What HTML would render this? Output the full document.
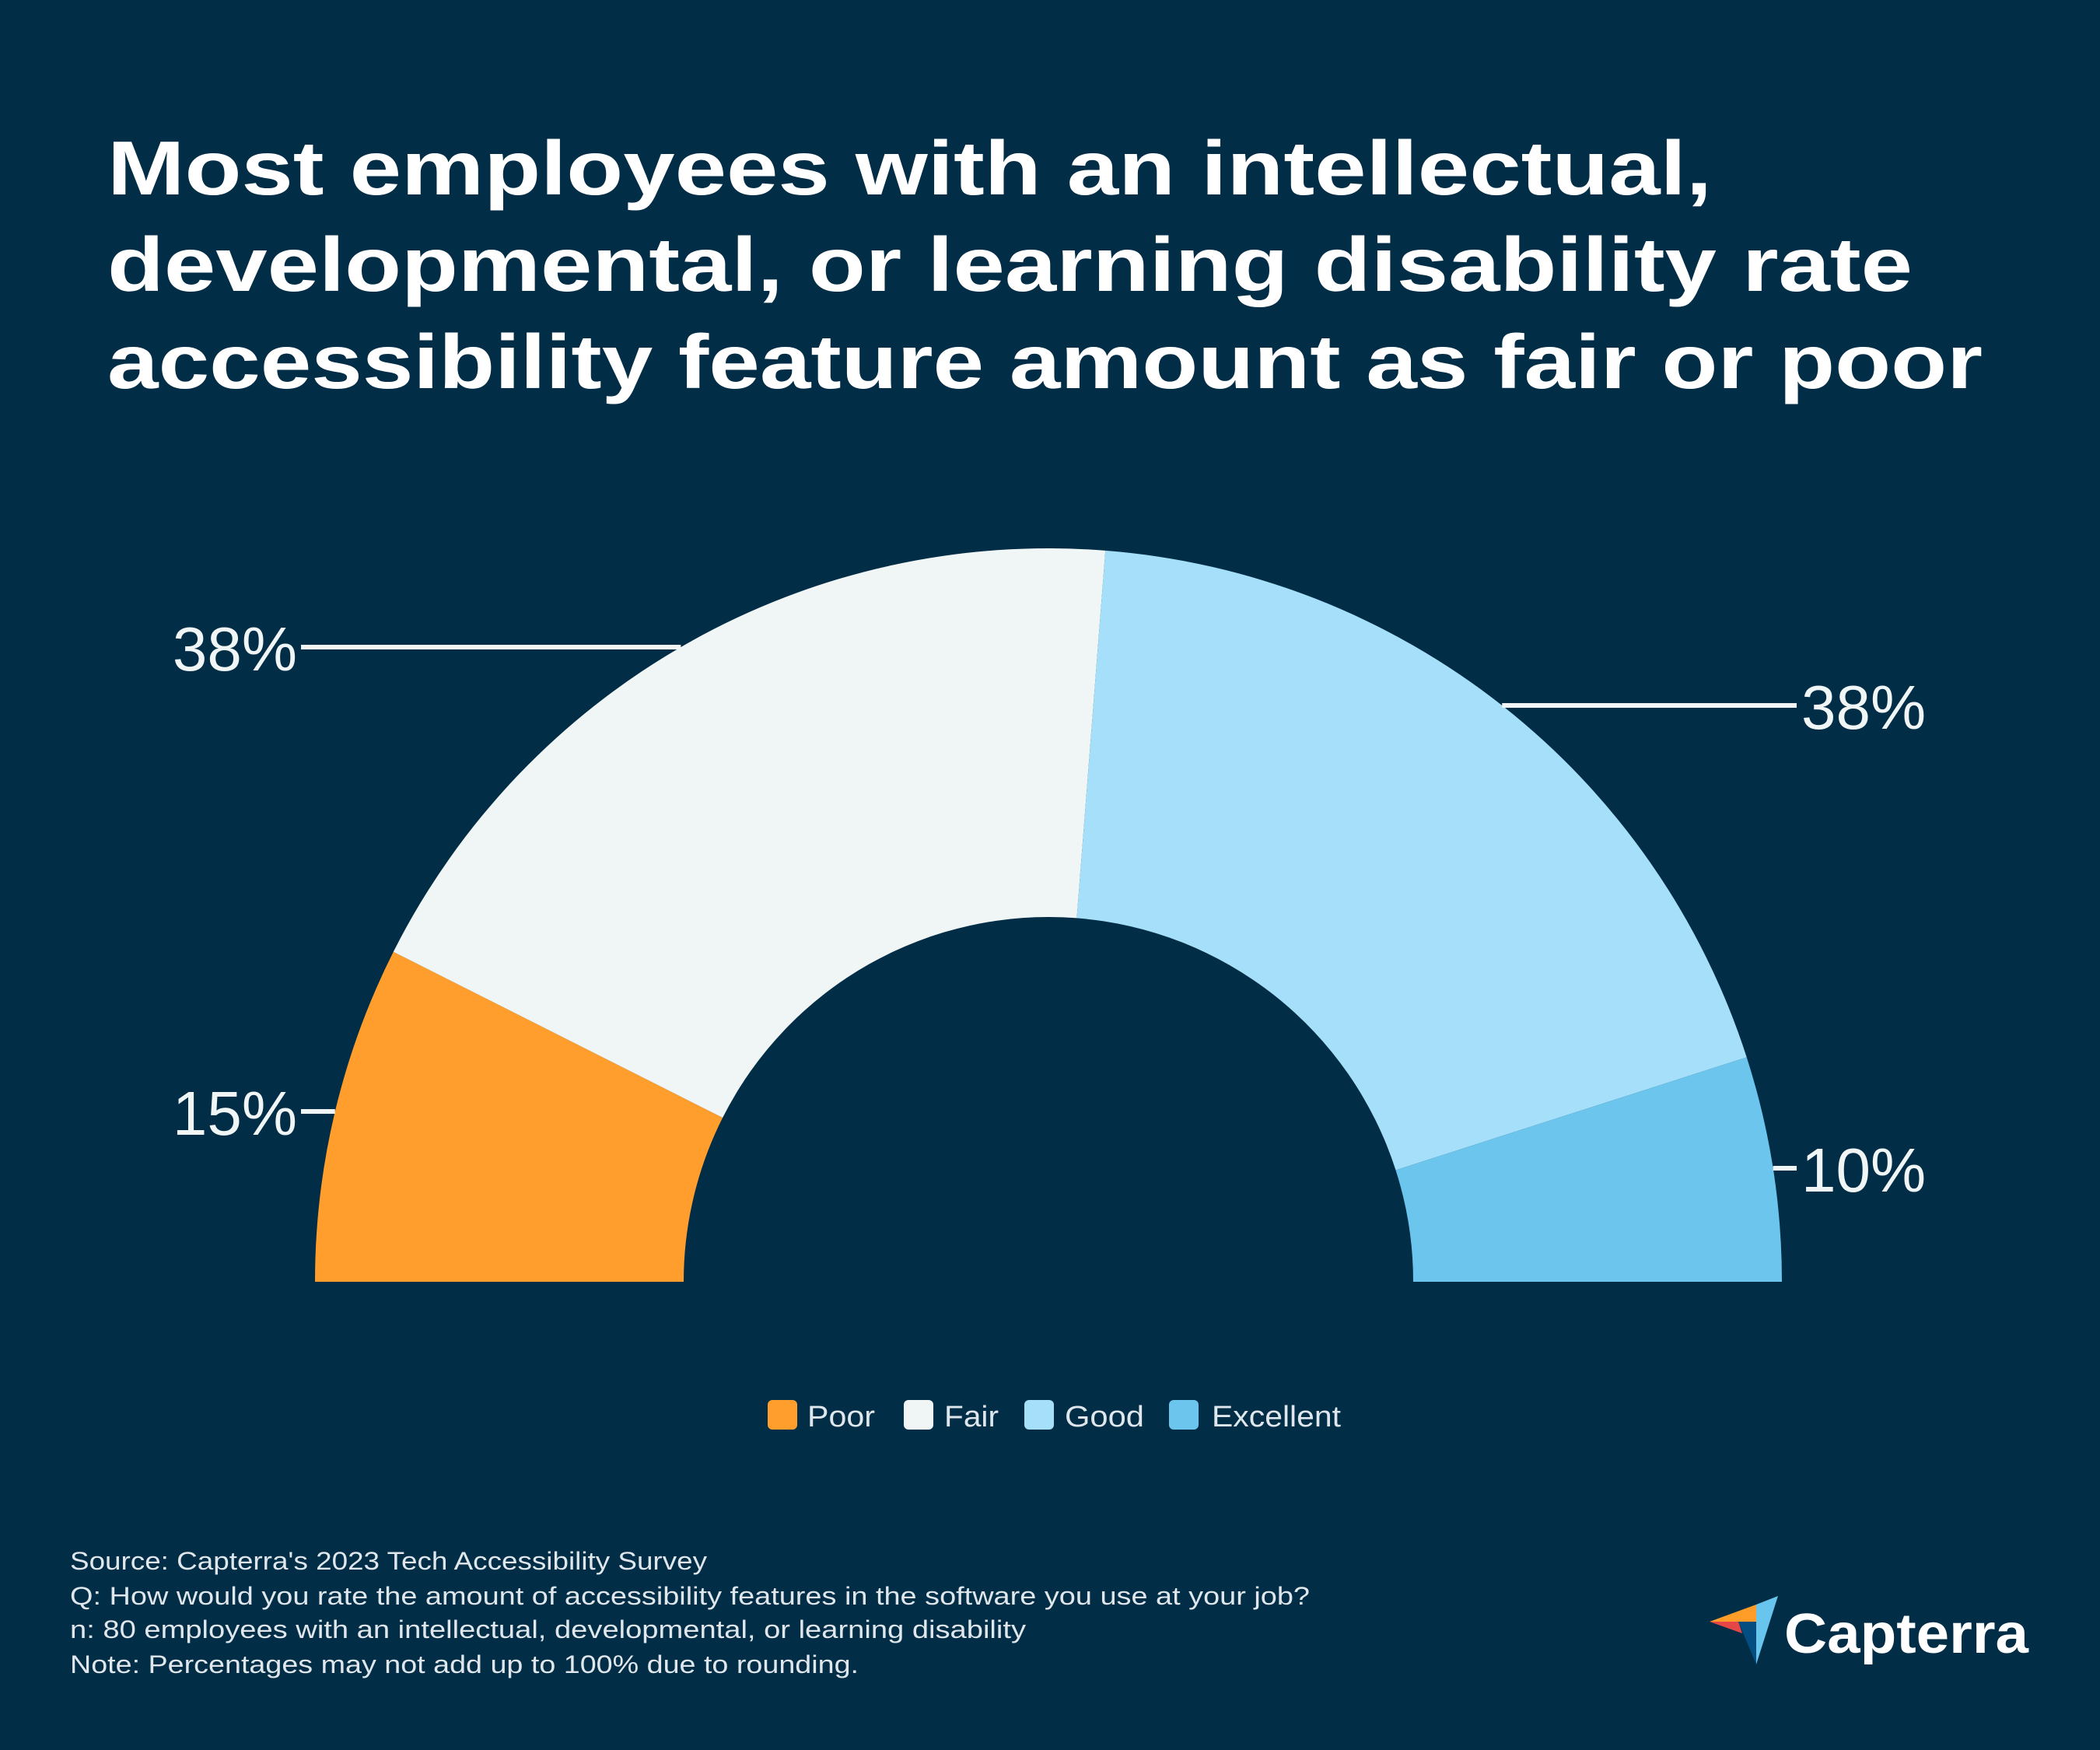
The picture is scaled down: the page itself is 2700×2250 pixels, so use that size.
<!DOCTYPE html>
<html><head><meta charset="utf-8"><style>
html,body{margin:0;padding:0;background:#022d46;}
svg{display:block;font-family:"Liberation Sans",sans-serif;}
</style></head><body>
<svg id="chart" width="2700" height="2250" viewBox="0 0 2700 2250" xmlns="http://www.w3.org/2000/svg">
<rect width="2700" height="2250" fill="#022d46"/>
<g fill="#ffffff" font-weight="bold" font-size="98">
<text x="138" y="250" textLength="2063" lengthAdjust="spacingAndGlyphs">Most employees with an intellectual,</text>
<text x="138" y="374" textLength="2321" lengthAdjust="spacingAndGlyphs">developmental, or learning disability rate</text>
<text x="138" y="499" textLength="2411" lengthAdjust="spacingAndGlyphs">accessibility feature amount as fair or poor</text>
</g>
<g id="slices"></g>
<g id="labels" fill="#f0f5f5" font-size="80"></g>
<g font-size="38" fill="#dfe7ec">
<g><rect x="987" y="1800" width="38" height="38" rx="6" fill="#ff9e2c"/><text x="1038" y="1834" textLength="87" lengthAdjust="spacingAndGlyphs">Poor</text></g>
<g><rect x="1162" y="1800" width="38" height="38" rx="6" fill="#f0f5f5"/><text x="1214" y="1834" textLength="70" lengthAdjust="spacingAndGlyphs">Fair</text></g>
<g><rect x="1317" y="1800" width="38" height="38" rx="6" fill="#a5dff9"/><text x="1369" y="1834" textLength="102" lengthAdjust="spacingAndGlyphs">Good</text></g>
<g><rect x="1503" y="1800" width="38" height="38" rx="6" fill="#6bc5ec"/><text x="1558" y="1834" textLength="166" lengthAdjust="spacingAndGlyphs">Excellent</text></g>
</g>
<g font-size="32" fill="#dfe7ec">
<text x="90" y="2018" textLength="819" lengthAdjust="spacingAndGlyphs">Source: Capterra's 2023 Tech Accessibility Survey</text>
<text x="90" y="2063" textLength="1594" lengthAdjust="spacingAndGlyphs">Q: How would you rate the amount of accessibility features in the software you use at your job?</text>
<text x="90" y="2106" textLength="1229" lengthAdjust="spacingAndGlyphs">n: 80 employees with an intellectual, developmental, or learning disability</text>
<text x="90" y="2151" textLength="1014" lengthAdjust="spacingAndGlyphs">Note: Percentages may not add up to 100% due to rounding.</text>
</g>
<g>
<polygon points="2198,2085 2258,2063 2258,2085" fill="#ff9d28"/>
<polygon points="2258,2063 2286,2052 2258,2140" fill="#68c5ed"/>
<polygon points="2198,2085 2235,2085 2240,2100" fill="#e54747"/>
<polygon points="2235,2085 2258,2085 2258,2140" fill="#044d80"/>
<text x="2294" y="2125" font-size="72" font-weight="bold" fill="#ffffff" textLength="314" lengthAdjust="spacingAndGlyphs">Capterra</text>
</g>
</svg>
<script>
const categories = ["Poor","Fair","Good","Excellent"];
const values = [15,38,38,10];
const valueLabels = ["15%","38%","38%","10%"];
const colors = ["#ff9e2c","#f0f5f5","#a5dff9","#6bc5ec"];
const cx=1348, cy=1648, R=943, r=469;
const total = values.reduce((a,b)=>a+b,0);
const ns="http://www.w3.org/2000/svg";
function angleAt(v){ return Math.PI - (v/total)*Math.PI; }
function pt(a,rad){ return [cx+rad*Math.cos(a), cy-rad*Math.sin(a)]; }
const gS=document.getElementById('slices'), gL=document.getElementById('labels');
let cum=0;
const labelY=[1429,832,907,1502];
values.forEach((v,i)=>{
  const a0=angleAt(cum), a1=angleAt(cum+v); cum+=v;
  const p0=pt(a0,R), p1=pt(a1,R), q1=pt(a1,r), q0=pt(a0,r);
  const large=(a0-a1)>Math.PI?1:0;
  const p=document.createElementNS(ns,'path');
  p.setAttribute('d',`M${p0[0]},${p0[1]} A${R},${R} 0 ${large} 1 ${p1[0]},${p1[1]} L${q1[0]},${q1[1]} A${r},${r} 0 ${large} 0 ${q0[0]},${q0[1]} Z`);
  p.setAttribute('fill',colors[i]);
  
  
  gS.appendChild(p);
  const y=labelY[i];
  const dy=cy-y;
  const left=(a0+a1)/2>Math.PI/2;
  const xArc=cx+(left?-1:1)*Math.sqrt(Math.max(0,R*R-dy*dy));
  const xEnd=left?387:2310;
  const ln=document.createElementNS(ns,'line');
  ln.setAttribute('x1',xArc);ln.setAttribute('y1',y);ln.setAttribute('x2',xEnd);ln.setAttribute('y2',y);
  ln.setAttribute('stroke','#f0f5f5');ln.setAttribute('stroke-width','6');
  
  
  gL.appendChild(ln);
  const t=document.createElementNS(ns,'text');
  t.setAttribute('x',left?382:2316);
  t.setAttribute('y',y+30);
  t.setAttribute('text-anchor',left?'end':'start');
  t.textContent=valueLabels[i];
  
  
  gL.appendChild(t);
});
</script>
</body></html>
